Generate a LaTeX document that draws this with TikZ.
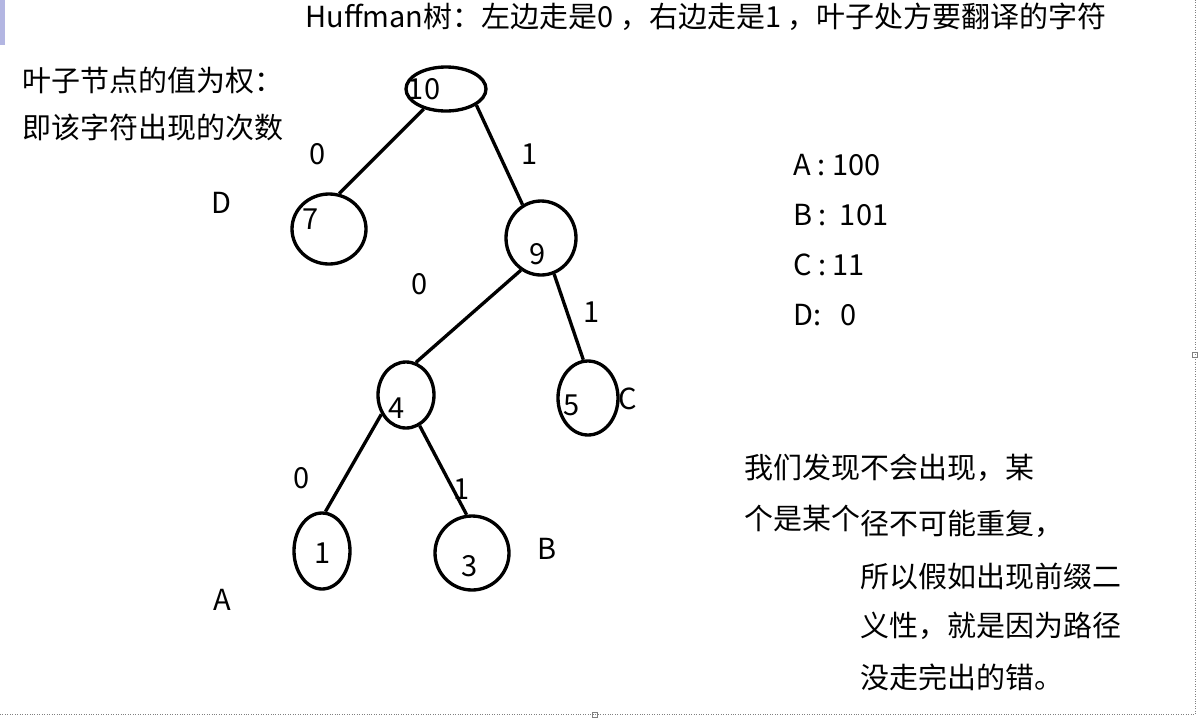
\documentclass[tikz,border=0pt]{standalone}
\usepackage{fontspec}
\setmainfont{Noto Sans CJK SC}
\usetikzlibrary{shapes.geometric}
\begin{document}
\begin{tikzpicture}[x=0.02cm,y=-0.02cm,
  every node/.style={font=\fontsize{16.5}{18}\selectfont},
  tn/.style={draw,ellipse,line width=1.9pt,inner sep=0pt},
  ed/.style={line width=1.9pt},
  tx/.style={anchor=west,inner sep=0pt}]
\useasboundingbox (0,0) rectangle (1204,724);
\fill[cyan!25!blue!30] (0,0) rectangle (5,45);
\draw[gray,densely dotted] (0,714) -- (1195,714);
\draw[gray,densely dotted] (1195,0) -- (1195,714);
\draw[gray] (592,712) rectangle (597,717);
\draw[gray] (1192,352) rectangle (1197,357);
\node[tx] (title) at (305,17) {Huffman树：左边走是0 ，右边走是1 ，叶子处方要翻译的字符};
\node[tx] (l1) at (22,80) {叶子节点的值为权：};
\node[tx] (l2) at (22,127) {即该字符出现的次数};
\node[tn,minimum width=80*0.02cm,minimum height=44*0.02cm] (n10) at (446,89) {};
\node[tn,minimum width=74*0.02cm,minimum height=70*0.02cm] (n7) at (329,229) {};
\node[tn,minimum width=70*0.02cm,minimum height=74*0.02cm] (n9) at (541,238) {};
\node[tn,minimum width=56*0.02cm,minimum height=66*0.02cm] (n4) at (406,395) {};
\node[tn,minimum width=60*0.02cm,minimum height=74*0.02cm] (n5) at (588,398) {};
\node[tn,minimum width=56*0.02cm,minimum height=76*0.02cm] (n1) at (322,551) {};
\node[tn,minimum width=74*0.02cm,minimum height=74*0.02cm] (n3) at (472,553) {};
\node (t10) at (424,89) {10};
\node (t7) at (311,219) {7};
\node (t9) at (538,254) {9};
\node (t4) at (397,408) {4};
\node (t5) at (572,405) {5};
\node (t1) at (323,553) {1};
\node (t3) at (470,566) {3};
\draw[ed] (n10.222) -- (n7.74);
\draw[ed] (n10.332) -- (n9.119);
\draw[ed] (n9.238) -- (n4.73);
\draw[ed] (n9.290) -- (n5.97);
\draw[ed] (n4.218) -- (n1.85);
\draw[ed] (n4.294) -- (n3.98);
\node (e1) at (318,154) {0};
\node (e2) at (530,154) {1};
\node (e3) at (420,284) {0};
\node (e4) at (592,312) {1};
\node (e5) at (302,478) {0};
\node (e6) at (462,489) {1};
\node (lD) at (221,203) {D};
\node (lC) at (628,399) {C};
\node (lB) at (547,549) {B};
\node (lA) at (222,600) {A};
\node[tx] (cA) at (793,165) {A : 100};
\node[tx] (cB) at (793,215) {B :\ \ 101};
\node[tx] (cC) at (793,265) {C : 11};
\node[tx] (cD) at (793,315) {D:\ \ \ 0};
\node[tx] (b1) at (744,468) {我们发现不会出现，某};
\node[tx] (b2) at (744,518) {个是某个};
\node[tx] (b3) at (860,524) {径不可能重复，};
\node[tx] (b4) at (860,576) {所以假如出现前缀二};
\node[tx] (b5) at (860,626) {义性，就是因为路径};
\node[tx] (b6) at (860,677) {没走完出的错。};
\end{tikzpicture}
\end{document}
